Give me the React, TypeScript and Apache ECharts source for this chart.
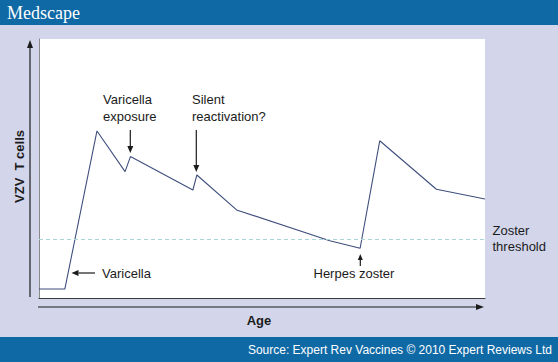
import React, { useEffect, useRef } from "react";
import * as echarts from "echarts";

// Age (arbitrary units 0-100) and VZV T-cell level (arbitrary units 0-100)
const ages = [0, 5.8, 13.0, 19.3, 20.5, 34.5, 35.4, 44.3, 65.2, 72.0, 76.4, 89.1, 100];
const levels = [3.5, 3.5, 64.5, 48.8, 54.6, 41.7, 47.5, 34.0, 22.1, 19.2, 60.7, 42.0, 38.2];
const zosterThreshold = 22.5;

const yAxisTitle = "VZV  T cells";
const xAxisTitle = "Age";
const brand = "Medscape";
const sourceText = "Source: Expert Rev Vaccines \u00a9 2010 Expert Reviews Ltd";

const FONT = "'Liberation Sans', Arial, Helvetica, sans-serif";
const INK = "#1b1b1b";

function arrow(x1: number, y1: number, x2: number, y2: number, head = 7, half = 3) {
  const dx = x2 - x1;
  const dy = y2 - y1;
  const len = Math.sqrt(dx * dx + dy * dy);
  const ux = dx / len;
  const uy = dy / len;
  const bx = x2 - ux * head;
  const by = y2 - uy * head;
  return {
    type: "group",
    silent: true,
    children: [
      {
        type: "line",
        shape: { x1, y1, x2: bx, y2: by },
        style: { stroke: INK, lineWidth: 1.2 },
      },
      {
        type: "polygon",
        shape: {
          points: [
            [x2, y2],
            [bx - uy * half, by + ux * half],
            [bx + uy * half, by - ux * half],
          ],
        },
        style: { fill: INK },
      },
    ],
  };
}

function label(text: string, x: number, y: number, opts: any = {}) {
  return {
    type: "text",
    x,
    y,
    silent: true,
    style: {
      text,
      fill: INK,
      font: `13px ${FONT}`,
      lineHeight: 16.5,
      verticalAlign: "middle",
      ...opts,
    },
  };
}

export default function App() {
  const ref = useRef<HTMLDivElement>(null);

  useEffect(() => {
    document.body.style.margin = "0";
    const chart = echarts.init(ref.current!, null, { renderer: "svg" });
    const option: any = {
      animation: false,
      backgroundColor: "#D3D6EB",
      grid: {
        left: 39,
        top: 39,
        right: 73,
        bottom: 64,
        show: true,
        backgroundColor: "#ffffff",
        borderWidth: 0,
      },
      xAxis: {
        type: "value",
        min: 0,
        max: 100,
        axisLine: { show: true, lineStyle: { color: "#3a3a3a", width: 1 } },
        axisTick: { show: false },
        axisLabel: { show: false },
        splitLine: { show: false },
      },
      yAxis: {
        type: "value",
        min: 0,
        max: 100,
        axisLine: { show: true, lineStyle: { color: "#8a8a8a", width: 1 } },
        axisTick: { show: false },
        axisLabel: { show: false },
        splitLine: { show: false },
      },
      series: [
        {
          type: "line",
          data: ages.map((a, i) => [a, levels[i]]),
          showSymbol: false,
          lineStyle: { color: "#3E4F7C", width: 1.1 },
          markLine: {
            silent: true,
            symbol: "none",
            label: { show: false },
            lineStyle: { color: "#A9D4D9", type: [4, 3], width: 1.2 },
            data: [{ yAxis: zosterThreshold }],
          },
          z: 3,
        },
      ],
      graphic: [
        { type: "rect", shape: { x: 0, y: 0, width: 558, height: 25 }, style: { fill: "#0F69A5" }, silent: true },
        { type: "rect", shape: { x: 0, y: 337, width: 558, height: 25 }, style: { fill: "#0F69A5" }, silent: true },
        {
          type: "text",
          x: 7,
          y: 13,
          silent: true,
          style: {
            text: brand,
            fill: "#ffffff",
            font: "18px 'Liberation Serif', 'Times New Roman', serif",
            verticalAlign: "middle",
          },
        },
        {
          type: "text",
          x: 552,
          y: 349.5,
          silent: true,
          style: {
            text: sourceText,
            fill: "#ffffff",
            font: `12px ${FONT}`,
            align: "right",
            verticalAlign: "middle",
          },
        },
        // axis arrows
        arrow(30, 297, 30, 40, 8, 3),
        arrow(38, 307, 484, 307, 8, 3),
        {
          type: "text",
          x: 19,
          y: 166.5,
          rotation: Math.PI / 2,
          silent: true,
          style: {
            text: yAxisTitle,
            fill: INK,
            font: `bold 13px ${FONT}`,
            align: "center",
            verticalAlign: "middle",
          },
        },
        label(xAxisTitle, 259, 320.5, { font: `bold 13px ${FONT}`, align: "center" }),
        // annotations
        label("Varicella\nexposure", 103, 107.8),
        arrow(130.3, 130, 130.3, 153),
        label("Silent\nreactivation?", 192, 107.8),
        arrow(196.3, 130, 196.3, 172),
        label("Varicella", 102, 273.7),
        arrow(95, 273, 71.5, 273),
        label("Herpes zoster", 313.5, 273.7),
        arrow(360.3, 266, 360.3, 254, 6, 2.5),
        label("Zoster\nthreshold", 492.5, 238, { lineHeight: 16 }),
      ],
    };
    chart.setOption(option);
    return () => chart.dispose();
  }, []);

  return <div ref={ref} style={{ width: 558, height: 362 }} />;
}
